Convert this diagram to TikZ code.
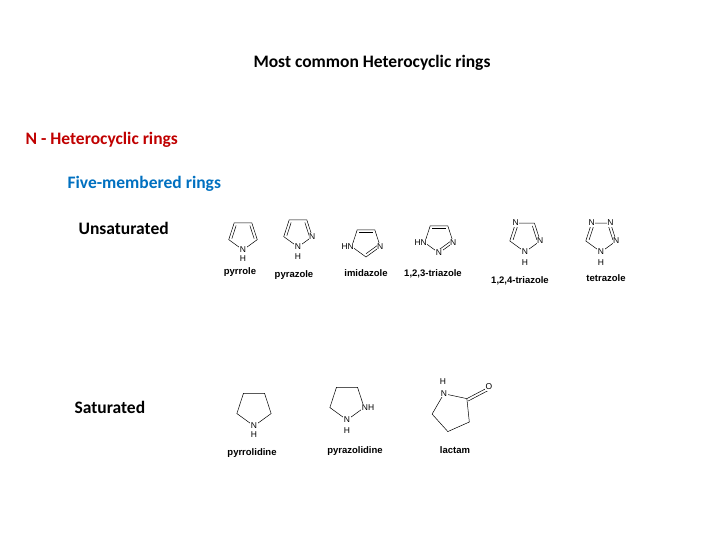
\documentclass[tikz,border=0pt]{standalone}
\usepackage{fontspec}
\setmainfont{Carlito}
\newfontfamily\arial{Liberation Sans}
\usetikzlibrary{calc}
\definecolor{titlered}{RGB}{192,0,0}
\definecolor{titleblue}{RGB}{0,112,192}

% five-membered ring: name, centre, radius, start angle
\newcommand\pent[4]{%
  \foreach \i in {1,...,5}{\coordinate (#1\i) at ($(#2)+({#4+72*(\i-1)}:#3)$);}
  \draw (#11)--(#12)--(#13)--(#14)--(#15)--cycle;}
% inner line of a double bond: centre, from, to
\newcommand\dbl[3]{\draw ($(#2)!0.22!(#1)$) -- ($(#3)!0.22!(#1)$);}

\begin{document}
\begin{tikzpicture}[
    x=1pt, y=-1pt, line width=0.5pt,
    atom/.style={fill=white, inner sep=0.6pt, font=\arial\fontsize{8.5}{9}\selectfont},
    hyd/.style={inner sep=0pt, font=\arial\fontsize{8.5}{9}\selectfont},
    molname/.style={font=\arial\bfseries\fontsize{9.5}{11}\selectfont},
    head/.style={anchor=west, font=\bfseries\fontsize{17.5}{20}\selectfont}
]
\useasboundingbox (0,0) rectangle (720,540);

% headings
\node[font=\bfseries\fontsize{17.5}{20}\selectfont] (title) at (372,63) {Most common Heterocyclic rings};
\node[head, text=titlered] (nhet) at (22,140) {N - Heterocyclic rings};
\node[head, text=titleblue] (five) at (64,184) {Five-membered rings};
\node[head] (unsat) at (75,228) {Unsaturated};
\node[head] (sat) at (71,407) {Saturated};

% pyrrole
\coordinate (c1) at (243,235);
\pent{pyr}{c1}{15}{90}
\dbl{c1}{pyr2}{pyr3} \dbl{c1}{pyr4}{pyr5}
\node[atom] at (pyr1) {N};
\node[hyd] at (243,259) {H};
\node[molname] at (240,272) {pyrrole};

% pyrazole
\coordinate (c2) at (298,232);
\pent{pyz}{c2}{15}{90}
\dbl{c2}{pyz2}{pyz3} \dbl{c2}{pyz4}{pyz5}
\node[atom] at (pyz1) {N};
\node[atom] at (pyz5) {N};
\node[hyd] at (298,257) {H};
\node[molname] at (294,275) {pyrazole};

% imidazole
\coordinate (c3) at (366,242);
\pent{imi}{c3}{15}{90}
\dbl{c3}{imi3}{imi4} \dbl{c3}{imi1}{imi5}
\node[atom, anchor=east] at ($(imi2)+(3,0)$) {HN};
\node[atom] at (imi5) {N};
\node[molname] at (366,273) {imidazole};

% 1,2,3-triazole
\coordinate (c4) at (439,238);
\pent{tri}{c4}{15}{90}
\dbl{c4}{tri3}{tri4} \dbl{c4}{tri1}{tri5}
\node[atom, anchor=east] at ($(tri2)+(3,0)$) {HN};
\node[atom] at (tri1) {N};
\node[atom] at (tri5) {N};
\node[molname] at (433,274) {1,2,3-triazole};

% 1,2,4-triazole
\coordinate (c5) at (525,236);
\pent{tz}{c5}{16}{90}
\dbl{c5}{tz2}{tz3} \dbl{c5}{tz4}{tz5}
\node[atom] at (tz1) {N};
\node[atom] at (tz3) {N};
\node[atom] at (tz5) {N};
\node[hyd] at (525,263) {H};
\node[molname] at (520,281) {1,2,4-triazole};

% tetrazole
\coordinate (c6) at (601,236);
\pent{tet}{c6}{16}{90}
\dbl{c6}{tet2}{tet3} \dbl{c6}{tet4}{tet5}
\node[atom] at (tet1) {N};
\node[atom] at (tet3) {N};
\node[atom] at (tet4) {N};
\node[atom] at (tet5) {N};
\node[hyd] at (601,263) {H};
\node[molname] at (606,278) {tetrazole};

% pyrrolidine
\coordinate (c7) at (254,408);
\pent{pyd}{c7}{18}{90}
\node[atom] at (pyd1) {N};
\node[hyd] at (254,435) {H};
\node[molname] at (252,453) {pyrrolidine};

% pyrazolidine
\coordinate (c8) at (347,402);
\pent{pzd}{c8}{18}{90}
\node[atom] at (pzd1) {N};
\node[atom, anchor=west] at ($(pzd5)+(-3,0)$) {NH};
\node[hyd] at (347,431) {H};
\node[molname] at (355,451) {pyrazolidine};

% lactam
\coordinate (c9) at (452,412);
\pent{lac}{c9}{20}{246}
\coordinate (oxy) at (489,387);
\draw (lac2) -- (oxy);
\draw ($(lac2)+(1.3,2.4)$) -- ($(oxy)+(1.3,2.4)$);
\node[atom] at (lac1) {N};
\node[hyd] at (443,382) {H};
\node[atom] at (oxy) {O};
\node[molname] at (455,450) {lactam};
\end{tikzpicture}
\end{document}
